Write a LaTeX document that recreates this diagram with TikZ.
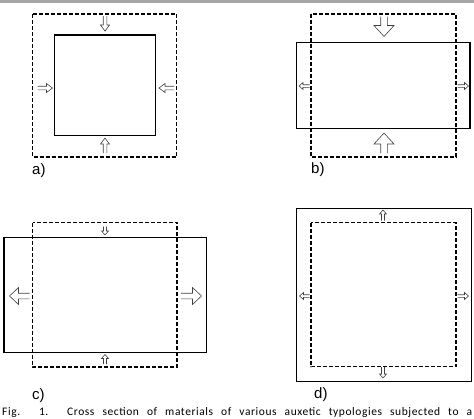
\documentclass[tikz,border=0pt]{standalone}
\usepackage{fontspec}
\setmainfont{Liberation Sans}
\newfontfamily\capfont[LetterSpace=5]{Carlito}

\tikzset{
    solidbox/.style={draw=black, line width=1.5pt},
    dashedbox/.style={draw=black, line width=1.3pt, dash pattern=on 4pt off 2pt},
    arrowline/.style={draw=black!75, line width=0.6pt, line join=miter},
    panellabel/.style={anchor=north west, inner sep=0pt, font=\fontsize{15}{17}\selectfont},
    % open double-shaft arrow: length / shaft half width / head half width / head length
    pics/hollowarrow/.style args={#1/#2/#3/#4}{code={
        \draw[arrowline] (0,#2) -- ({#1-#4},#2) -- ({#1-#4},#3) -- (#1,0)
            -- ({#1-#4},-#3) -- ({#1-#4},-#2) -- (0,-#2);
    }}
}

\begin{document}
\begin{tikzpicture}[x=1pt, y=-1pt]
    \useasboundingbox (0,0) rectangle (474,418);

    % Top rule
    \fill[black!35] (0,0) rectangle (474,3);

    % Panel a: shrinking in both directions
    \draw[dashedbox] (32.5,14) rectangle (176.5,157);
    \draw[solidbox] (54.5,35) rectangle (155.5,135.5);
    \pic[rotate=-90] at (105,16) {hollowarrow=15/1.8/4.5/6};
    \pic[rotate=90] at (105,153) {hollowarrow=15/1.8/4.5/6};
    \pic at (37.5,88) {hollowarrow=15/1.8/4.5/6};
    \pic[rotate=180] at (174,88) {hollowarrow=15/1.8/4.5/6};
    \node[panellabel] (labA) at (32,163) {a)};

    % Panel b: compressed vertically, widening
    \draw[dashedbox] (311,14) rectangle (456,157);
    \draw[solidbox] (296.5,42.5) rectangle (470,128.5);
    \pic[rotate=-90] at (384,16.5) {hollowarrow=20/3.3/10/11};
    \pic[rotate=90] at (384,153) {hollowarrow=20/3.3/10/11};
    \pic[rotate=180] at (309.5,86) {hollowarrow=10.5/1.3/3.5/4};
    \pic at (457.5,86) {hollowarrow=11/1.3/3.5/4};
    \node[panellabel] (labB) at (311,162) {b)};

    % Panel c: stretched horizontally
    \draw[solidbox] (4,237.5) rectangle (206.5,352.5);
    \draw[dashedbox] (32.5,222.5) rectangle (177,367);
    \pic[rotate=-90] at (105,226.5) {hollowarrow=8.5/1.5/3.5/4};
    \pic[rotate=90] at (105,364) {hollowarrow=9.5/1.5/3.5/4};
    \pic[rotate=180] at (29.5,296) {hollowarrow=20/2.8/8.5/9};
    \pic at (181,296) {hollowarrow=20.5/2.8/8.5/9};
    \node[panellabel] (labC) at (32,388) {c)};

    % Panel d: growing in both directions
    \draw[solidbox] (296.5,208.5) rectangle (471.5,381.5);
    \draw[dashedbox] (311,222.5) rectangle (456,366.5);
    \pic[rotate=90] at (383,220.5) {hollowarrow=10.5/1.5/3.5/4};
    \pic[rotate=-90] at (383,367) {hollowarrow=11/1.5/3.5/4};
    \pic[rotate=180] at (309.5,296) {hollowarrow=10/1.3/3.5/4};
    \pic at (457.5,296) {hollowarrow=11/1.3/3.5/4};
    \node[panellabel] (labD) at (314,387) {d)};

    % Caption
    \node[anchor=base west, inner sep=0pt] (caption) at (2,415)
        {\capfont\fontsize{11.5}{13}\selectfont\makebox[470pt][s]{Fig. 1. Cross section of materials of various auxetic typologies subjected to a}};
\end{tikzpicture}
\end{document}
